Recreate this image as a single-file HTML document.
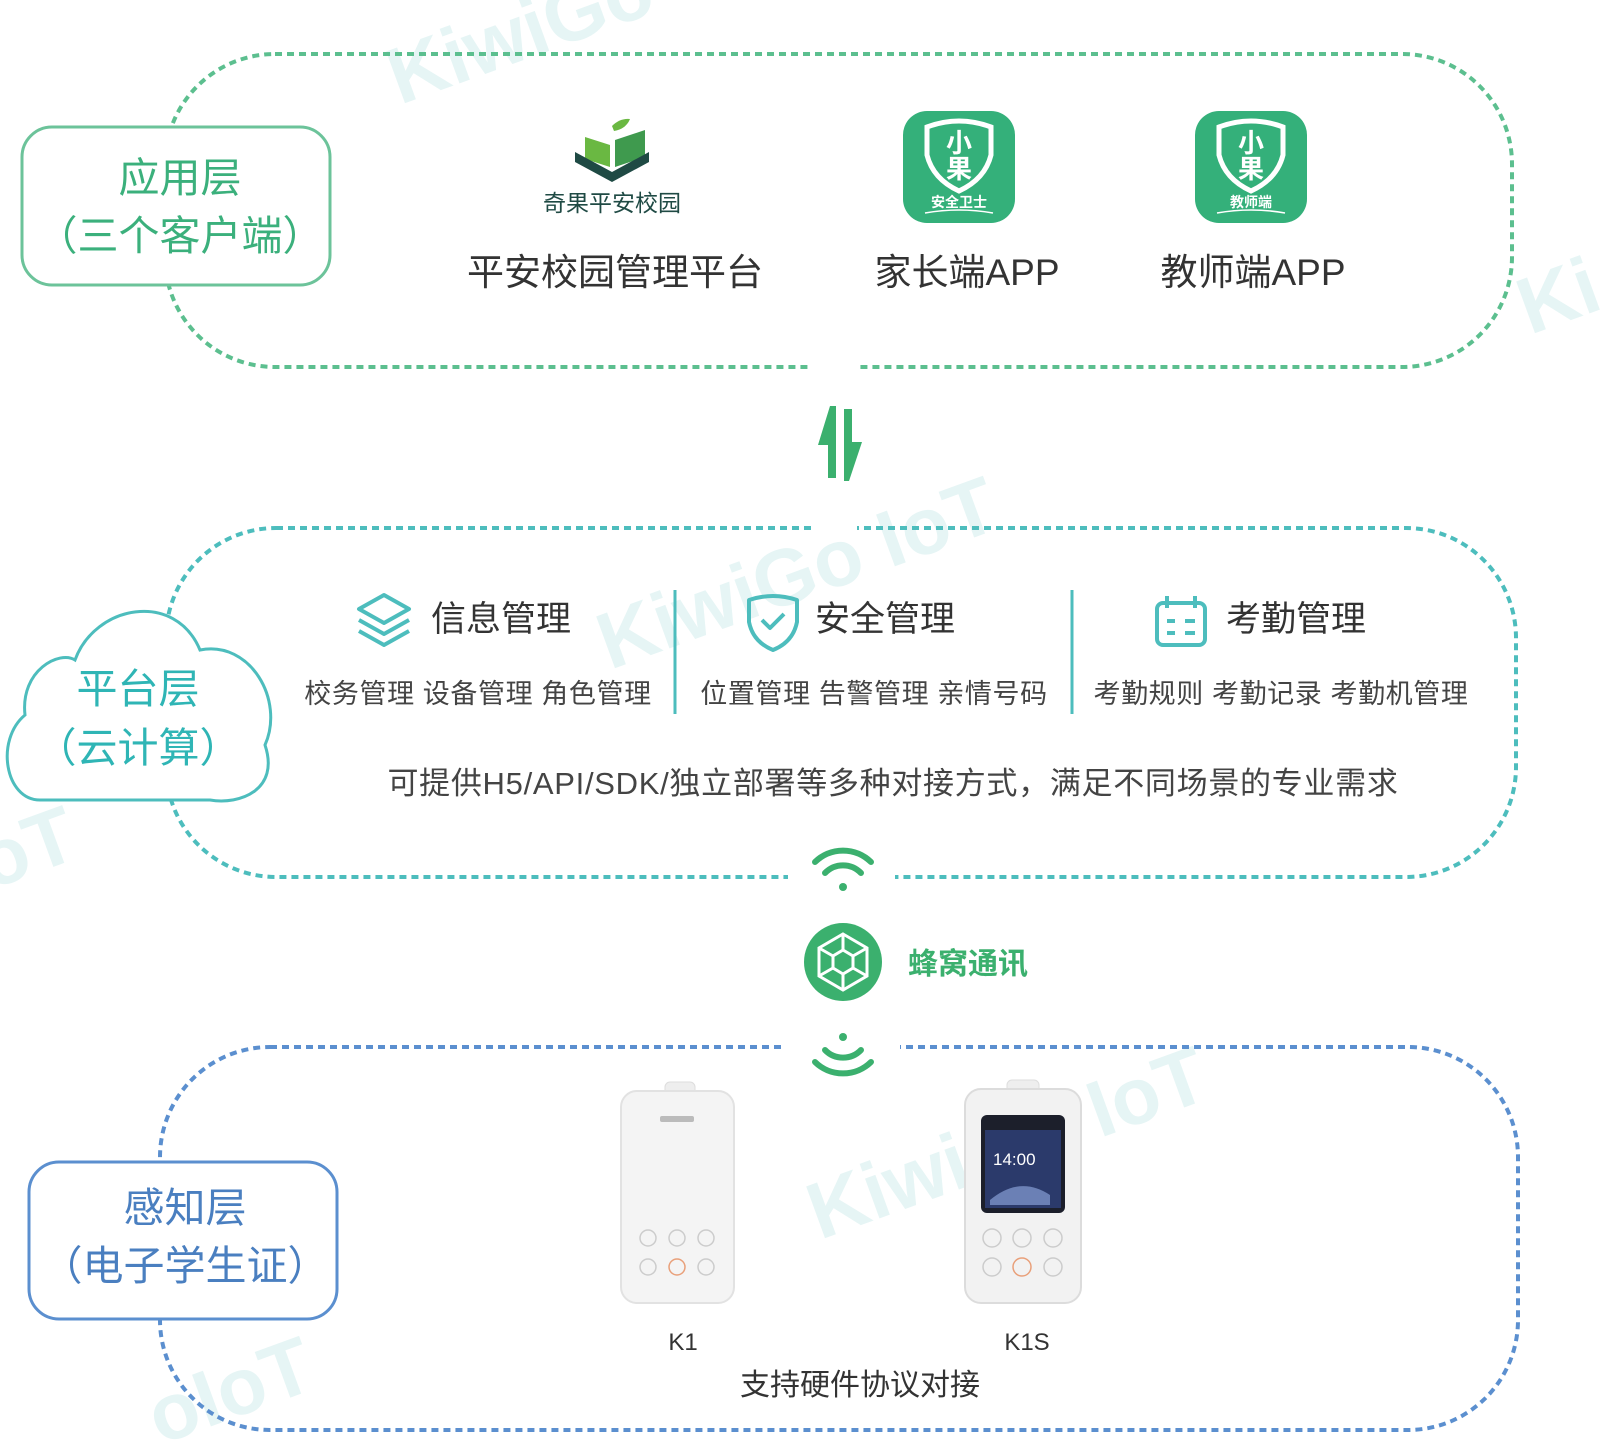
<!DOCTYPE html>
<html><head><meta charset="utf-8"><style>
html,body{margin:0;padding:0;background:#fff;}
svg{display:block;}
text{font-family:"Liberation Sans","Noto Sans CJK SC",sans-serif;}
</style></head><body>
<svg width="1622" height="1448" viewBox="0 0 1622 1448" xmlns="http://www.w3.org/2000/svg">
<!-- watermarks -->
<g fill="#e6f5f5" font-size="80" font-weight="bold">
<text x="400" y="105" transform="rotate(-20 400 105)">KiwiGo</text>
<text x="610" y="670" transform="rotate(-20 610 670)">KiwiGo IoT</text>
<text x="820" y="1240" transform="rotate(-20 820 1240)">KiwiGo IoT</text>
<text x="1530" y="335" transform="rotate(-20 1530 335)">Ki</text>
<text x="-10" y="890" transform="rotate(-20 -10 890)">oT</text>
<text x="160" y="1445" transform="rotate(-20 160 1445)">oIoT</text>
</g>

<!-- top box -->
<rect x="165" y="54" width="1347" height="313" rx="110" fill="none" stroke="#5cbf8f" stroke-width="4" stroke-dasharray="7 5"/>
<rect x="812" y="360" width="45" height="14" fill="#fff"/>
<!-- middle box -->
<rect x="166" y="528" width="1350" height="349" rx="110" fill="none" stroke="#4dbdbd" stroke-width="4" stroke-dasharray="7 5"/>
<rect x="814" y="520" width="43" height="14" fill="#fff"/>
<rect x="788" y="870" width="107" height="14" fill="#fff"/>
<!-- bottom box -->
<rect x="160" y="1047" width="1358" height="383" rx="110" fill="none" stroke="#5b8fcf" stroke-width="4" stroke-dasharray="7 5"/>
<rect x="786" y="1040" width="114" height="14" fill="#fff"/>

<!-- label boxes -->
<rect x="22" y="127" width="308" height="158" rx="30" fill="#fff" stroke="#6cc39a" stroke-width="3"/>
<text x="180" y="192" font-size="41" fill="#3bb07c" text-anchor="middle">应用层</text>
<text x="180" y="250" font-size="41" fill="#3bb07c" text-anchor="middle">（三个客户端）</text>

<path d="M40,800 C5,800 -5,740 25,715 C20,670 60,650 75,660 C95,605 175,590 200,650 C250,640 285,700 265,745 C280,790 240,805 210,800 Z" fill="#fff" stroke="#4dbdbd" stroke-width="3"/>
<text x="138" y="703" font-size="41" fill="#2fb5b5" text-anchor="middle">平台层</text>
<text x="138" y="762" font-size="41" fill="#2fb5b5" text-anchor="middle">（云计算）</text>

<rect x="29" y="1162" width="308" height="157" rx="30" fill="#fff" stroke="#5b8fcf" stroke-width="3"/>
<text x="185" y="1222" font-size="41" fill="#4a7fc0" text-anchor="middle">感知层</text>
<text x="185" y="1280" font-size="41" fill="#4a7fc0" text-anchor="middle">（电子学生证）</text>

<!-- app layer contents -->
<g>
<path d="M585,137 l25,8 v22 l-25,-8 z" fill="#6ab842"/>
<path d="M645,130 l-30,10 v27 l30,-10 z" fill="#3f9a4e"/>
<path d="M612,126 q8,-8 18,-7 q-4,10 -16,12 z" fill="#6ab842"/>
<path d="M575,152 l37,20 l37,-20 v10 l-37,20 l-37,-20 z" fill="#1f4a44"/>
<text x="612" y="211" font-size="23" fill="#1f4a44" text-anchor="middle">奇果平安校园</text>
</g>
<text x="615" y="285" font-size="37" fill="#333" text-anchor="middle">平安校园管理平台</text>

<rect x="903" y="111" width="112" height="112" rx="24" fill="#34b07a"/>
<path d="M927,127 q32,-12 64,0 v28 q-6,24 -32,36 q-26,-12 -32,-36 z" fill="none" stroke="#fff" stroke-width="5"/>
<text x="959" y="152" font-size="26" fill="#fff" text-anchor="middle" font-weight="bold">小</text>
<text x="959" y="178" font-size="26" fill="#fff" text-anchor="middle" font-weight="bold">果</text>
<text x="959" y="207" font-size="14" fill="#fff" text-anchor="middle" font-weight="bold">安全卫士</text>
<path d="M925,213 q34,-6 68,0" stroke="#fff" stroke-width="1.5" fill="none"/>
<text x="967" y="285" font-size="37" fill="#333" text-anchor="middle">家长端APP</text>

<rect x="1195" y="111" width="112" height="112" rx="24" fill="#34b07a"/>
<path d="M1219,127 q32,-12 64,0 v28 q-6,24 -32,36 q-26,-12 -32,-36 z" fill="none" stroke="#fff" stroke-width="5"/>
<text x="1251" y="152" font-size="26" fill="#fff" text-anchor="middle" font-weight="bold">小</text>
<text x="1251" y="178" font-size="26" fill="#fff" text-anchor="middle" font-weight="bold">果</text>
<text x="1251" y="207" font-size="14" fill="#fff" text-anchor="middle" font-weight="bold">教师端</text>
<path d="M1217,213 q34,-6 68,0" stroke="#fff" stroke-width="1.5" fill="none"/>
<text x="1253" y="285" font-size="37" fill="#333" text-anchor="middle">教师端APP</text>

<!-- arrows -->
<path d="M830,406 L818,445 L828,445 L828,478 L836,478 L836,406 Z" fill="#3bb06e"/>
<path d="M849,481 L862,442 L852,442 L852,409 L844,409 L844,481 Z" fill="#3bb06e"/>

<!-- platform contents -->
<g fill="none" stroke="#4dbdbd" stroke-width="4" stroke-linejoin="round">
<path d="M384,595 l25,14 l-25,14 l-25,-14 z"/>
<path d="M359,620 l25,14 l25,-14"/>
<path d="M359,631 l25,14 l25,-14"/>
<path d="M749,600 q24,-8 48,0 v22 q-4,20 -24,28 q-20,-8 -24,-28 z"/>
<path d="M762,620 l8,8 l14,-14"/>
<rect x="1157" y="603" width="48" height="42" rx="6"/>
<path d="M1167,596 v12 M1195,596 v12 M1167,621 h8 M1185,621 h10 M1167,633 h8 M1185,633 h10"/>
</g>
<text x="431" y="631" font-size="35" fill="#333">信息管理</text>
<text x="815" y="631" font-size="35" fill="#333">安全管理</text>
<text x="1226" y="631" font-size="35" fill="#333">考勤管理</text>
<line x1="675" y1="590" x2="675" y2="714" stroke="#4dbdbd" stroke-width="3"/>
<line x1="1072" y1="590" x2="1072" y2="714" stroke="#4dbdbd" stroke-width="3"/>
<text x="478" y="703" font-size="27" fill="#444" text-anchor="middle" letter-spacing="0.6">校务管理  设备管理  角色管理</text>
<text x="874" y="703" font-size="27" fill="#444" text-anchor="middle" letter-spacing="0.6">位置管理  告警管理  亲情号码</text>
<text x="1281" y="703" font-size="27" fill="#444" text-anchor="middle" letter-spacing="0.6">考勤规则  考勤记录  考勤机管理</text>
<text x="893" y="794" font-size="31" fill="#444" text-anchor="middle" letter-spacing="0.7">可提供H5/API/SDK/独立部署等多种对接方式，满足不同场景的专业需求</text>

<!-- wifi top -->
<g fill="none" stroke="#3bb06e" stroke-width="6" stroke-linecap="round">
<path d="M815,862 a40,40 0 0 1 56,0"/>
<path d="M825,873 a25,25 0 0 1 36,0"/>
</g>
<circle cx="843" cy="887" r="4" fill="#3bb06e"/>
<!-- cellular -->
<circle cx="843" cy="962" r="39" fill="#3bb06e"/>
<g stroke="#fff" stroke-width="3" fill="none">
<polygon points="843,934 867,948 867,976 843,990 819,976 819,948"/>
<polygon points="843,950 853,956 853,968 843,974 833,968 833,956"/>
<path d="M843,934 v16 M867,948 l-14,8 M867,976 l-14,-8 M843,990 v-16 M819,976 l14,-8 M819,948 l14,8"/>
</g>
<text x="908" y="974" font-size="30" font-weight="bold" fill="#3bb06e">蜂窝通讯</text>
<!-- wifi bottom -->
<g fill="none" stroke="#3bb06e" stroke-width="6" stroke-linecap="round">
<path d="M815,1062 a40,40 0 0 0 56,0"/>
<path d="M825,1050 a25,25 0 0 0 36,0"/>
</g>
<circle cx="843" cy="1037" r="4" fill="#3bb06e"/>

<!-- devices -->
<rect x="665" y="1082" width="30" height="14" rx="5" fill="#eee" stroke="#ddd"/>
<rect x="621" y="1091" width="113" height="212" rx="16" fill="#f4f4f4" stroke="#e2e2e2" stroke-width="2"/>
<g fill="#bbb"><rect x="660" y="1116" width="34" height="6" rx="2"/></g>
<g fill="none" stroke="#ccc" stroke-width="1.5">
<circle cx="648" cy="1238" r="8"/><circle cx="677" cy="1238" r="8"/><circle cx="706" cy="1238" r="8"/>
<circle cx="648" cy="1267" r="8"/><circle cx="677" cy="1267" r="8" stroke="#e9a07a"/><circle cx="706" cy="1267" r="8"/>
</g>
<text x="683" y="1350" font-size="24" fill="#333" text-anchor="middle">K1</text>

<rect x="1007" y="1080" width="32" height="14" rx="5" fill="#eee" stroke="#ddd"/>
<rect x="965" y="1089" width="116" height="214" rx="16" fill="#f2f2f2" stroke="#dcdcdc" stroke-width="2"/>
<rect x="981" y="1115" width="84" height="98" rx="6" fill="#1c1f2b"/>
<rect x="985" y="1130" width="76" height="78" fill="#2b3a6b"/>
<path d="M990,1200 q30,-25 60,-5 v10 h-60 z" fill="#6b80b5"/>
<text x="993" y="1165" font-size="17" fill="#fff">14:00</text>
<g fill="none" stroke="#ccc" stroke-width="1.5">
<circle cx="992" cy="1238" r="9"/><circle cx="1022" cy="1238" r="9"/><circle cx="1053" cy="1238" r="9"/>
<circle cx="992" cy="1267" r="9"/><circle cx="1022" cy="1267" r="9" stroke="#e9a07a"/><circle cx="1053" cy="1267" r="9"/>
</g>
<text x="1027" y="1350" font-size="24" fill="#333" text-anchor="middle">K1S</text>
<text x="860" y="1395" font-size="30" fill="#333" text-anchor="middle">支持硬件协议对接</text>
</svg>
</body></html>
